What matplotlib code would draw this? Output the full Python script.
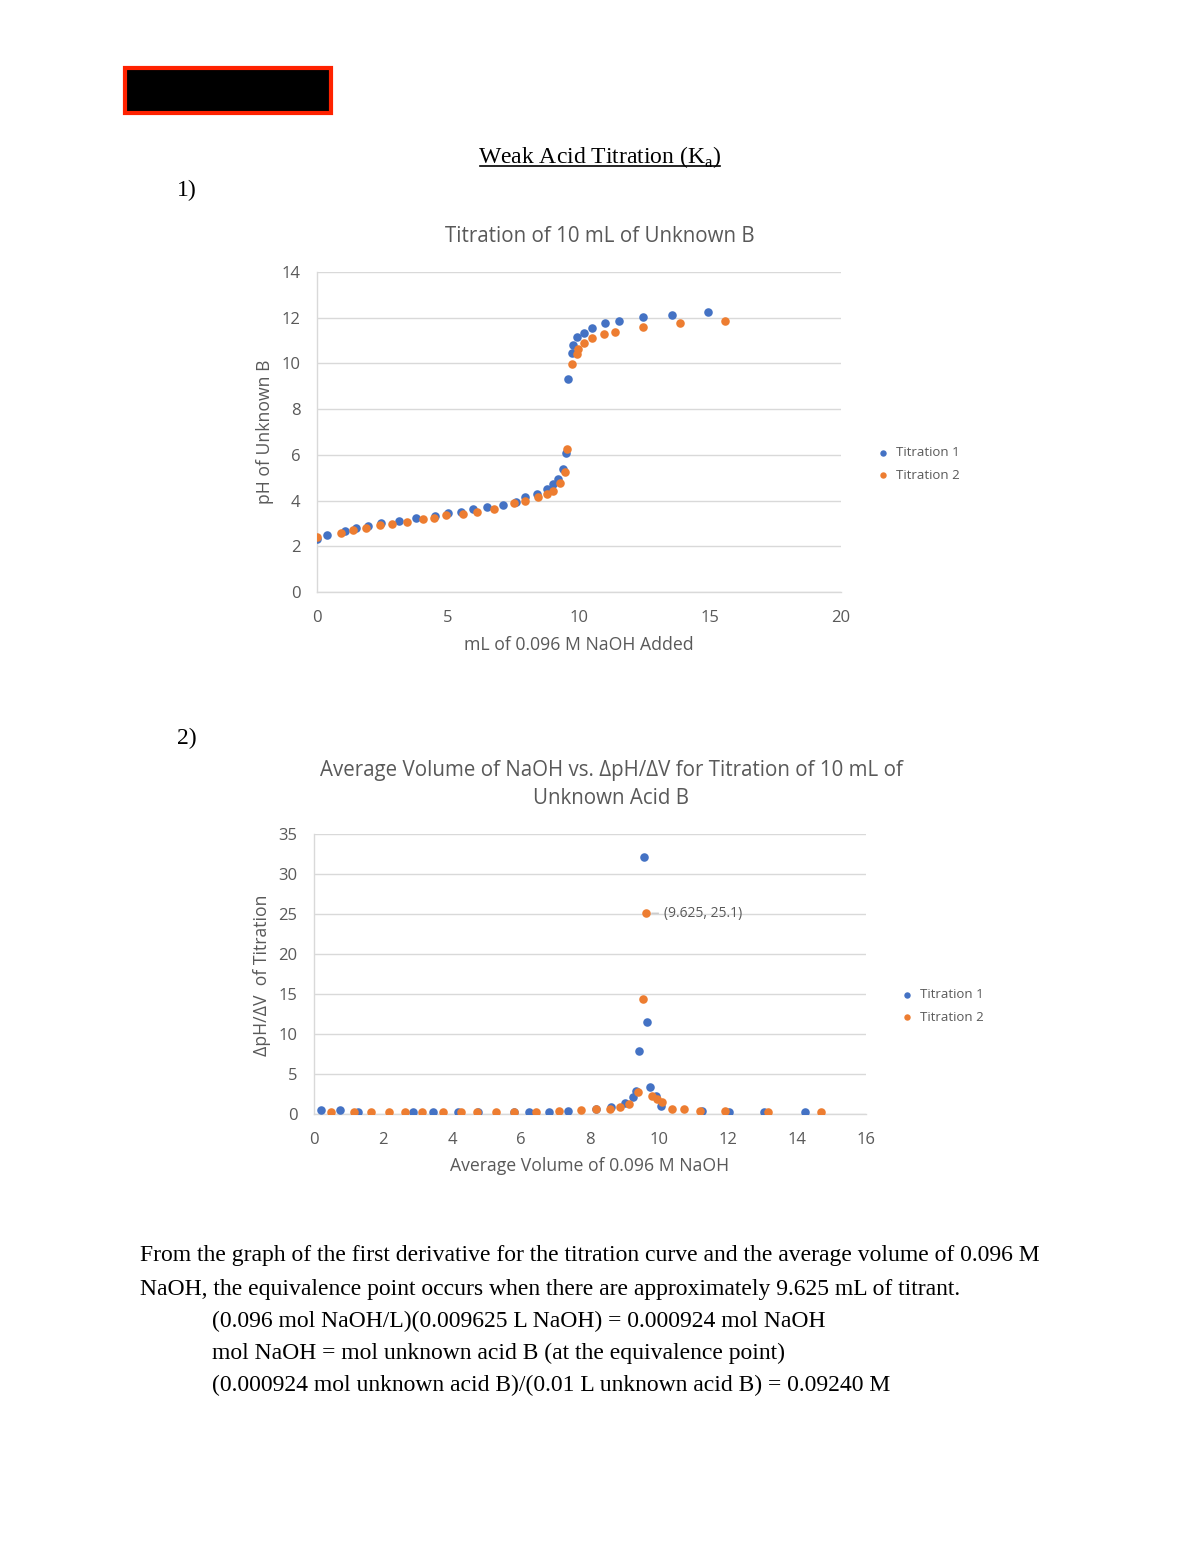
import matplotlib
matplotlib.use('Agg')
import matplotlib.pyplot as plt
from matplotlib.patches import Rectangle
from matplotlib.lines import Line2D

# ---- data ----
# titration curve (pH vs mL NaOH)
vol_t1 = [0, 0.39, 1.07, 1.48, 1.93, 2.43, 3.13, 3.78, 4.52, 5.01, 5.51, 5.96, 6.47, 7.1,
          7.59, 7.93, 8.41, 8.78, 9.01, 9.2, 9.4, 9.5, 9.59, 9.72, 9.78, 9.94, 10.19,
          10.48, 10.99, 11.54, 12.46, 13.54, 14.94]
ph_t1 = [2.31, 2.49, 2.68, 2.79, 2.89, 3.0, 3.12, 3.22, 3.32, 3.44, 3.51, 3.63, 3.70, 3.80,
         3.95, 4.14, 4.29, 4.50, 4.71, 4.93, 5.38, 6.09, 9.30, 10.47, 10.80, 11.14, 11.34,
         11.53, 11.75, 11.85, 12.01, 12.12, 12.23]
vol_t2 = [0, 0.9, 1.39, 1.87, 2.4, 2.85, 3.42, 4.03, 4.48, 4.91, 5.59, 6.1, 6.77, 7.52,
          7.94, 8.42, 8.77, 9.0, 9.28, 9.47, 9.56, 9.72, 9.91, 9.98, 10.19, 10.48, 10.95,
          11.37, 12.46, 13.85, 15.57]
ph_t2 = [2.42, 2.59, 2.71, 2.81, 2.93, 2.97, 3.08, 3.18, 3.25, 3.37, 3.41, 3.51, 3.63, 3.88,
         3.99, 4.14, 4.29, 4.43, 4.75, 5.24, 6.24, 9.97, 10.41, 10.62, 10.91, 11.10, 11.29,
         11.39, 11.58, 11.75, 11.85]

# first derivative (dpH/dV vs average volume)
avg_t1 = [0.21, 0.75, 1.28, 2.86, 3.45, 4.18, 4.75, 5.81, 6.24, 6.82, 7.36, 8.17, 8.6,
          9.01, 9.24, 9.33, 9.43, 9.57, 9.64, 9.74, 9.9, 10.07, 11.24, 12.02, 13.05, 14.24]
dpdv_t1 = [0.45, 0.5, 0.3, 0.3, 0.3, 0.3, 0.3, 0.3, 0.3, 0.3, 0.35, 0.6, 0.9,
           1.4, 2.1, 2.85, 7.9, 32.1, 11.46, 3.43, 2.3, 1.0, 0.4, 0.3, 0.25, 0.2]
avg_t2 = [0.48, 1.15, 1.66, 2.18, 2.65, 3.13, 3.74, 4.27, 4.72, 5.27, 5.81, 6.43, 7.1,
          7.75, 8.17, 8.58, 8.88, 9.14, 9.38, 9.53, 9.625, 9.79, 9.93, 10.08, 10.37,
          10.72, 11.19, 11.91, 13.16, 14.69]
dpdv_t2 = [0.3, 0.3, 0.3, 0.3, 0.3, 0.3, 0.3, 0.3, 0.3, 0.3, 0.3, 0.3, 0.35,
           0.5, 0.6, 0.65, 0.85, 1.2, 2.72, 14.39, 25.1, 2.26, 1.92, 1.46, 0.67,
           0.6, 0.4, 0.35, 0.3, 0.25]

series_labels = ['Titration 1', 'Titration 2']
peak = (9.625, 25.1)

body_lines = [
    'From the graph of the first derivative for the titration curve and the average volume of 0.096 M',
    'NaOH, the equivalence point occurs when there are approximately 9.625 mL of titrant.',
]
calc_lines = [
    '(0.096 mol NaOH/L)(0.009625 L NaOH) = 0.000924 mol NaOH',
    'mol NaOH = mol unknown acid B (at the equivalence point)',
    '(0.000924 mol unknown acid B)/(0.01 L unknown acid B) = 0.09240 M',
]

W, H = 1200, 1553
BLUE, ORANGE = '#4472C4', '#ED7D31'
GRAY_TXT = '#595959'
GRID = '#d9d9d9'
SANS = ['Open Sans', 'DejaVu Sans']
SERIF = 'Liberation Serif'


def fx(px):
    return px / W


def fy(py):
    return 1 - py / H


def axes_px(fig, left, top, right, bottom):
    return fig.add_axes([fx(left), fy(bottom), (right - left) / W, (bottom - top) / H])


def style_ax(ax):
    for side in ['top', 'right']:
        ax.spines[side].set_visible(False)
    for side in ['left', 'bottom']:
        ax.spines[side].set_color(GRID)
        ax.spines[side].set_linewidth(1.0)
    ax.grid(axis='y', color=GRID, linewidth=1.0)
    ax.set_axisbelow(True)
    ax.tick_params(length=0, labelsize=12, colors=GRAY_TXT)
    ax.tick_params(axis='x', pad=13)
    ax.tick_params(axis='y', pad=12)
    for lab in ax.get_xticklabels() + ax.get_yticklabels():
        lab.set_family(SANS)


fig = plt.figure(figsize=(W / 100, H / 100), dpi=100)

# redacted name box
fig.add_artist(Rectangle((fx(125), fy(113)), 206 / W, 45 / H, transform=fig.transFigure,
                         facecolor='black', edgecolor='#ff2200', linewidth=3))

plt.rcParams['mathtext.fontset'] = 'custom'
plt.rcParams['mathtext.rm'] = SERIF

fig.text(fx(600), fy(157), r'Weak Acid Titration (K$_\mathregular{a}$)', ha='center', va='center',
         family=SERIF, fontsize=17)
fig.add_artist(Line2D([fx(480), fx(720)], [fy(166), fy(166)], transform=fig.transFigure,
                      color='black', linewidth=1.2))
fig.text(fx(177), fy(190), '1)', ha='left', va='center', family=SERIF, fontsize=17)
fig.text(fx(177), fy(738), '2)', ha='left', va='center', family=SERIF, fontsize=17)

# ===== chart 1: titration curve =====
ax1 = axes_px(fig, 317, 272, 841, 592)
ax1.scatter(vol_t1, ph_t1, s=38, color=BLUE, label=series_labels[0], zorder=3, linewidths=0)
ax1.scatter(vol_t2, ph_t2, s=38, color=ORANGE, label=series_labels[1], zorder=3, linewidths=0)
ax1.set_xlim(0, 20)
ax1.set_ylim(0, 14)
ax1.set_xticks(range(0, 21, 5))
ax1.set_yticks(range(0, 15, 2))
style_ax(ax1)
fig.text(fx(600), fy(237), 'Titration of 10 mL of Unknown B', ha='center', va='center',
         family=SANS, fontsize=14.8, color=GRAY_TXT)
fig.text(fx(579), fy(645), 'mL of 0.096 M NaOH Added', ha='center', va='center',
         family=SANS, fontsize=12.7, color=GRAY_TXT)
fig.text(fx(265), fy(432), 'pH of Unknown B', ha='center', va='center', rotation=90,
         family=SANS, fontsize=12.7, color=GRAY_TXT)
leg1 = ax1.legend(loc='center left', bbox_to_anchor=(fx(858), fy(464)), bbox_transform=fig.transFigure,
                  frameon=False, markerscale=0.75, handletextpad=0.0, labelspacing=0.75,
                  prop={'family': SANS, 'size': 9.5})
for t in leg1.get_texts():
    t.set_color(GRAY_TXT)

# ===== chart 2: first derivative =====
ax2 = axes_px(fig, 314, 834, 866, 1114)
ax2.scatter(avg_t1, dpdv_t1, s=38, color=BLUE, label=series_labels[0], zorder=3, linewidths=0)
ax2.scatter(avg_t2, dpdv_t2, s=38, color=ORANGE, label=series_labels[1], zorder=3, linewidths=0)
ax2.set_xlim(0, 16)
ax2.set_ylim(0, 35)
ax2.set_xticks(range(0, 17, 2))
ax2.set_yticks(range(0, 36, 5))
style_ax(ax2)
ax2.annotate(f'({peak[0]}, {peak[1]})', xy=peak, xytext=(13, 0), textcoords='offset points',
             ha='left', va='center', family=SANS, fontsize=10, color=GRAY_TXT,
             arrowprops=dict(arrowstyle='-', color='#bfbfbf', linewidth=0.8, shrinkA=2, shrinkB=4))
fig.text(fx(611), fy(771), 'Average Volume of NaOH vs. ΔpH/ΔV for Titration of 10 mL of',
         ha='center', va='center', family=SANS, fontsize=14.8, color=GRAY_TXT)
fig.text(fx(611), fy(799), 'Unknown Acid B', ha='center', va='center',
         family=SANS, fontsize=14.8, color=GRAY_TXT)
fig.text(fx(590), fy(1166), 'Average Volume of 0.096 M NaOH', ha='center', va='center',
         family=SANS, fontsize=12.7, color=GRAY_TXT)
fig.text(fx(262), fy(975), 'ΔpH/ΔV  of Titration', ha='center', va='center', rotation=90,
         family=SANS, fontsize=12.7, color=GRAY_TXT)
leg2 = ax2.legend(loc='center left', bbox_to_anchor=(fx(882), fy(1006)), bbox_transform=fig.transFigure,
                  frameon=False, markerscale=0.75, handletextpad=0.0, labelspacing=0.75,
                  prop={'family': SANS, 'size': 9.5})
for t in leg2.get_texts():
    t.set_color(GRAY_TXT)

# ===== body text =====
for i, line in enumerate(body_lines):
    fig.text(fx(140), fy(1256 + i * 33), line, ha='left', va='center', family=SERIF, fontsize=17)
for i, line in enumerate(calc_lines):
    fig.text(fx(212), fy(1321 + i * 32), line, ha='left', va='center', family=SERIF, fontsize=17)

plt.savefig('out.png', dpi=100)
plt.close()
